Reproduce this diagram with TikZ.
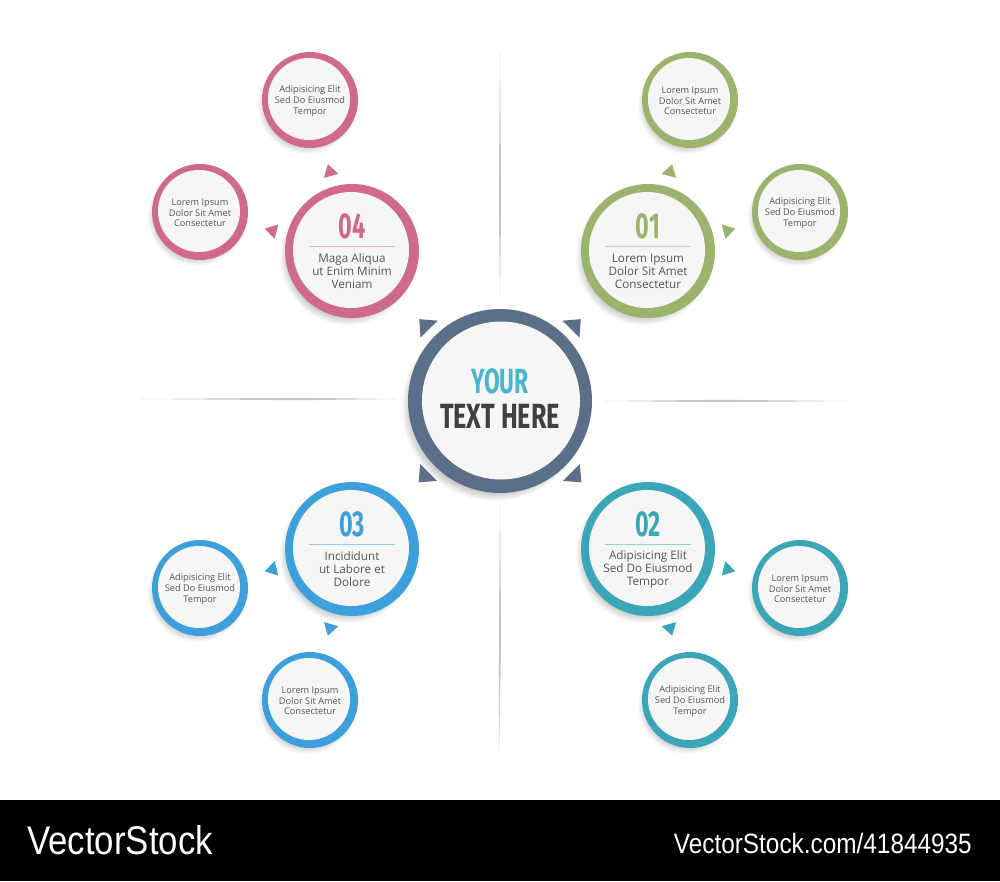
\documentclass[tikz,border=0pt]{standalone}
\usepackage{fontspec}
\setmainfont{Open Sans}
\newfontfamily\numfont[FakeStretch=0.65]{Fira Sans}
\newfontfamily\herefont[FakeStretch=0.72]{Fira Sans}
\newfontfamily\barfont[FakeStretch=0.87]{Liberation Sans}
\usetikzlibrary{calc}
\definecolor{cpink}{HTML}{D06A8C}
\definecolor{cgreen}{HTML}{9AB46D}
\definecolor{cblue}{HTML}{3D9FDB}
\definecolor{cteal}{HTML}{3BA6B7}
\definecolor{cslate}{HTML}{5A7089}
\definecolor{ccyan}{HTML}{4AB5CF}
\definecolor{cinner}{HTML}{F6F6F6}
\definecolor{ctext}{HTML}{555555}
\definecolor{cdark}{HTML}{404040}
\tikzset{
  ring/.style={circle, inner sep=0pt, fill=#1},
  disc/.style={circle, inner sep=0pt, fill=cinner},
  bodybig/.style={align=center, text=ctext, font=\fontsize{11.7}{13}\selectfont, inner sep=0pt},
  bodysmall/.style={align=center, text=ctext, font=\fontsize{9.2}{10.7}\selectfont, inner sep=0pt},
  numtext/.style={font=\numfont\bfseries\fontsize{36}{36}\selectfont, inner sep=0pt, anchor=base},
  centertext/.style={font=\numfont\bfseries\fontsize{35}{35}\selectfont, inner sep=0pt, anchor=base},
  heretext/.style={font=\herefont\bfseries\fontsize{35}{35}\selectfont, inner sep=0pt, anchor=base},
  shadowdisc/.style={fill=black, opacity=0.022},
  crossline/.style={fill=black!22},
}
\newcommand\mkbig[6]{%
  \coordinate (#1) at (#2,#3);
  \foreach \k in {0,...,8}{\fill[shadowdisc] ($(#1)+(-4,6)$) circle[radius=60+\k];}
  \node[ring=#4, minimum size=134pt] (#1ring) at (#1) {};
  \node[disc, minimum size=116pt] (#1disc) at ($(#1)+(-1,-1)$) {};
  \node[numtext, text=#4] (#1num) at ($(#1)+(0,-13)$) {#5};
  \draw[#4!55, line width=0.8pt] ($(#1)+(-43,-5)$) -- ($(#1)+(43,-5)$);
  \node[bodybig] (#1txt) at ($(#1)+(0,20)$) {#6};
}
\newcommand\mksmall[5]{%
  \coordinate (#1) at (#2,#3);
  \foreach \k in {0,...,7}{\fill[shadowdisc] ($(#1)+(-3,5)$) circle[radius=42+\k];}
  \node[ring=#4, minimum size=96pt] (#1ring) at (#1) {};
  \node[disc, minimum size=82pt] (#1disc) at ($(#1)+(-1,-1)$) {};
  \node[bodysmall] (#1txt) at ($(#1)+(0,1)$) {#5};
}
\newcommand\mktick[6]{%
  \coordinate (tb) at ($(#1)!#5pt!(#2)$);
  \fill[#3] ($(#1)!#4pt!(#2)$) -- ($(tb)!#6pt!90:(#2)$) -- ($(tb)!#6pt!-90:(#2)$) -- cycle;
}
\begin{document}
\begin{tikzpicture}[x=1pt,y=-1pt]
\useasboundingbox (0,0) rectangle (1000,881);
\fill[white] (0,0) rectangle (1000,881);
% cross lines
\fill[crossline] (500,50) -- (501.2,200) -- (500,297) -- (498.8,200) -- cycle;
\fill[crossline] (500,505) -- (501.2,640) -- (499,755) -- (498.8,640) -- cycle;
\fill[crossline] (140,399) -- (300,397.8) -- (397,399) -- (300,400.2) -- cycle;
\fill[crossline] (605,401) -- (720,399.8) -- (850,401) -- (720,402.2) -- cycle;
% coordinates of the satellites
\coordinate (ctr) at (500,401);
\coordinate (c1) at (648,251);
\coordinate (c2) at (648,549);
\coordinate (c3) at (352,549);
\coordinate (c4) at (352,251);
% central ticks
\mktick{ctr}{c1}{cslate}{115}{101}{12}
\mktick{ctr}{c2}{cslate}{115}{101}{12}
\mktick{ctr}{c3}{cslate}{115}{101}{12}
\mktick{ctr}{c4}{cslate}{115}{101}{12}
% central circle
\foreach \k in {0,...,9}{\fill[shadowdisc] ($(ctr)+(-5,7)$) circle[radius=84+\k];}
\node[ring=cslate, minimum size=184pt] (center) at (ctr) {};
\node[disc, minimum size=158pt] (centerdisc) at ($(ctr)+(1,-0.5)$) {};
\node[centertext, text=ccyan] (your) at (500,393) {YOUR};
\node[heretext, text=cdark] (here) at (500,428) {TEXT HERE};
% small circles
\mksmall{s4a}{310}{100}{cpink}{Adipisicing Elit\\Sed Do Eiusmod\\Tempor}
\mksmall{s4b}{200}{212}{cpink}{Lorem Ipsum\\Dolor Sit Amet\\Consectetur}
\mksmall{s1a}{690}{100}{cgreen}{Lorem Ipsum\\Dolor Sit Amet\\Consectetur}
\mksmall{s1b}{800}{212}{cgreen}{Adipisicing Elit\\Sed Do Eiusmod\\Tempor}
\mksmall{s3a}{200}{588}{cblue}{Adipisicing Elit\\Sed Do Eiusmod\\Tempor}
\mksmall{s3b}{310}{700}{cblue}{Lorem Ipsum\\Dolor Sit Amet\\Consectetur}
\mksmall{s2a}{800}{588}{cteal}{Lorem Ipsum\\Dolor Sit Amet\\Consectetur}
\mksmall{s2b}{690}{700}{cteal}{Adipisicing Elit\\Sed Do Eiusmod\\Tempor}
% small ticks
\mktick{c4}{s4a}{cpink}{90}{78}{7.5}
\mktick{c4}{s4b}{cpink}{90}{78}{7.5}
\mktick{c1}{s1a}{cgreen}{90}{78}{7.5}
\mktick{c1}{s1b}{cgreen}{90}{78}{7.5}
\mktick{c3}{s3a}{cblue}{90}{78}{7.5}
\mktick{c3}{s3b}{cblue}{90}{78}{7.5}
\mktick{c2}{s2a}{cteal}{90}{78}{7.5}
\mktick{c2}{s2b}{cteal}{90}{78}{7.5}
% big circles
\mkbig{b1}{648}{251}{cgreen}{01}{Lorem Ipsum\\Dolor Sit Amet\\Consectetur}
\mkbig{b2}{648}{549}{cteal}{02}{Adipisicing Elit\\Sed Do Eiusmod\\Tempor}
\mkbig{b3}{352}{549}{cblue}{03}{Incididunt\\ut Labore et\\Dolore}
\mkbig{b4}{352}{251}{cpink}{04}{Maga Aliqua\\ut Enim Minim\\Veniam}
% bottom bar
\fill[black] (0,800) rectangle (1000,881);
\node[font=\barfont\fontsize{40}{40}\selectfont, text=white, anchor=base west, inner sep=0pt] (brand) at (27,854) {VectorStock};
\node[font=\barfont\fontsize{28}{28}\selectfont, text=white, anchor=base east, inner sep=0pt] (url) at (972,853) {VectorStock.com/41844935};
\end{tikzpicture}
\end{document}
